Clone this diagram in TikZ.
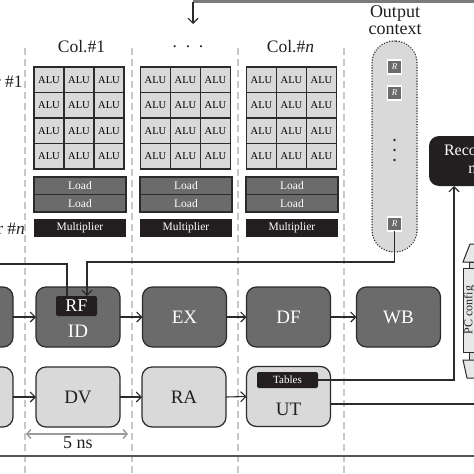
\documentclass[tikz,border=0pt]{standalone}
\usepackage{fontspec}
\setmainfont{Liberation Serif}
\usetikzlibrary{arrows.meta,calc}
\definecolor{darkg}{HTML}{6B6B6B}
\definecolor{lightg}{HTML}{D9D9D9}
\definecolor{blackc}{HTML}{231F20}
\definecolor{edgec}{HTML}{2B2B2B}
\definecolor{dashc}{HTML}{C8C8C8}
\definecolor{arrg}{HTML}{9A9A9A}
\begin{document}
\begin{tikzpicture}[x=1pt,y=-1pt,
  every node/.style={inner sep=0pt, outer sep=0pt},
  alu/.style={draw=edgec, line width=1.6pt, fill=lightg, minimum width=30pt, minimum height=25.5pt, font=\fontsize{10.5}{12}\selectfont},
  loadbox/.style={draw=edgec, line width=1.2pt, fill=darkg, text=white, minimum width=92pt, minimum height=17.5pt, font=\fontsize{11.5}{12}\selectfont},
  multbox/.style={fill=blackc, text=white, minimum width=92pt, minimum height=18pt, font=\fontsize{11.5}{12}\selectfont},
  stagedark/.style={draw=edgec, line width=1.2pt, fill=darkg, text=white, rounded corners=10pt, minimum width=84pt, minimum height=60pt, font=\fontsize{19}{20}\selectfont},
  stagelight/.style={stagedark, fill=lightg, text=blackc},
  innerbox/.style={fill=blackc, text=white, rounded corners=2pt},
  reg/.style={draw=white, line width=1.5pt, fill=darkg, text=white, minimum size=14pt, font=\fontsize{9}{9}\selectfont\itshape},
  flow/.style={-{Straight Barb[length=5pt,width=10pt]}, line width=1.1pt, draw=edgec},
  wire/.style={line width=1.1pt, draw=edgec},
  colsep/.style={draw=dashc, line width=1.2pt, dash pattern=on 7pt off 4pt},
  hdr/.style={font=\fontsize{17.5}{17}\selectfont, text=blackc}
]
\clip (0,0) rectangle (474,474);
\fill[white] (0,0) rectangle (474,474);

% column separators
\foreach \xx in {25,132,238,344}
  \draw[colsep] (\xx,48) -- (\xx,474);

% headers
\node[hdr] (col1) at (81.5,47) {Col.\#1};
\node[hdr] (cold) at (188,47) {.\ \ .\ \ .};
\node[hdr] (coln) at (290.5,47) {Col.\#\textit{n}};
\node[hdr, anchor=east] (row1) at (22.5,82) {r \#1};
\node[hdr, anchor=east] (rown) at (25,229) {r \#\textit{n}};

% ALU arrays
\foreach \c/\xs in {1/34,2/140.5,3/246.5}
  \foreach \r in {1,...,4}
    \foreach \k in {1,2,3}
      \node[alu] (alu-\c-\r-\k) at ({\xs+30*\k-15},{67+25.5*\r-12.75}) {ALU};

% load / multiplier
\foreach \c/\xc in {1/80,2/186,3/292}{
  \node[loadbox] (loada-\c) at (\xc,185.75) {Load};
  \node[loadbox] (loadb-\c) at (\xc,203.25) {Load};
  \node[multbox] (mult-\c) at (\xc,228) {Multiplier};
}

% output context
\node[hdr, align=center, anchor=north, font=\fontsize{18}{17}\selectfont] (outlbl) at (395,5.5) {Output\\context};
\node[draw=edgec, fill=lightg, line width=1.5pt, dash pattern=on 0.1pt off 2.6pt, line cap=round,
      rounded corners=22pt, minimum width=45pt, minimum height=211pt] (ctx) at (394.5,146.5) {};
\node[reg] (reg1) at (394.5,67) {R};
\node[reg] (reg2) at (394.5,93) {R};
\node[reg] (reg3) at (394.5,224) {R};
\foreach \yy in {140,150,160} \fill[edgec] (394.5,\yy) circle (1.4);

% reconfiguration manager
\node[fill=blackc, rounded corners=10pt, minimum width=134pt, minimum height=50pt, text=white,
      align=center, font=\fontsize{16}{18}\selectfont] (recon) at (496,161) {Reconfiguration\\manager};

% top feedback line
\coordinate (topr) at (474,1.5);
\coordinate (topl) at (193,1.5);
\coordinate (topd) at (193,24);
\draw[draw=arrg!80!black, line width=3pt] (topr) -- (topl);
\draw[flow] (topl) -- (topd);

% pipeline row 1
\node[stagedark] (s0) at (-29,317) {};
\node[stagedark] (id) at (78,317) {};
\node[text=white, font=\fontsize{19}{20}\selectfont] (idlbl) at (78,331) {ID};
\node[innerbox, minimum width=41pt, minimum height=20pt, font=\fontsize{18}{18}\selectfont] (rf) at (76.5,306) {RF};
\node[stagedark] (ex) at (184.5,317) {EX};
\node[stagedark] (df) at (288.5,317) {DF};
\node[stagedark] (wb) at (398.5,317) {WB};
\draw[flow] (s0.east) -- (id.west);
\draw[flow] (id.east) -- (ex.west);
\draw[flow] (ex.east) -- (df.west);
\draw[flow] (df.east) -- (wb.west);

% pipeline row 2
\node[stagelight] (d0) at (-29,397) {};
\node[stagelight] (dv) at (78,397) {DV};
\node[stagelight] (ra) at (184,397) {RA};
\node[stagelight] (ut) at (288.5,396.5) {};
\node[font=\fontsize{19}{20}\selectfont, text=blackc] (utlbl) at (288.5,409) {UT};
\node[innerbox, minimum width=61pt, minimum height=16pt, font=\fontsize{11}{12}\selectfont] (tables) at (287.5,380) {Tables};
\draw[flow] (d0.east) -- (dv.west);
\draw[flow] (dv.east) -- (ra.west);
\draw[flow] (ra.east) -- (ut.west);

% feedback wires
\coordinate (leftin) at (0,264);
\draw[wire] (leftin) -| ([xshift=-9.5pt]rf.north);
\coordinate (bend) at (394.5,262);
\draw[wire] (reg3.south) -- (bend);
\draw[flow] (bend) -| ([xshift=10.5pt]rf.north);
\draw[flow] (tables.east) -| ([xshift=25pt]recon.south west);
\coordinate (utout) at (474,404);
\draw[wire] ([yshift=-7.5pt]ut.east) -- (utout);

% PC config component (cut at right edge)
\draw[edgec, line width=1pt, fill=lightg!60!white] (470,244) -- (480,244) -- (480,262) -- (463,262) -- cycle;
\draw[edgec, line width=1pt, fill=lightg] (469,262) rectangle (480,268);
\draw[edgec, line width=1pt, fill=lightg!60!white] (463,268) rectangle (480,352);
\draw[edgec, line width=1pt, fill=lightg] (469,352) rectangle (480,360);
\draw[edgec, line width=1pt, fill=lightg!60!white] (463,360) -- (480,360) -- (480,378) -- (467,378) -- cycle;
\node[rotate=90, font=\fontsize{12}{12}\selectfont, text=blackc] (pcconf) at (469.5,310) {PC config};

% 5 ns
\coordinate (nsa) at (26,434);
\coordinate (nsb) at (128,434);
\draw[{Straight Barb[length=4pt,width=9pt]}-{Straight Barb[length=4pt,width=9pt]}, draw=arrg, line width=1.4pt] (nsa) -- (nsb);
\node[font=\fontsize{18}{18}\selectfont, text=blackc] (nslbl) at (78,443) {5 ns};

% bottom rule
\coordinate (bl) at (0,456);
\coordinate (br) at (474,456);
\draw[draw=edgec!80!white, line width=1.4pt] (bl) -- (br);
\end{tikzpicture}
\end{document}
